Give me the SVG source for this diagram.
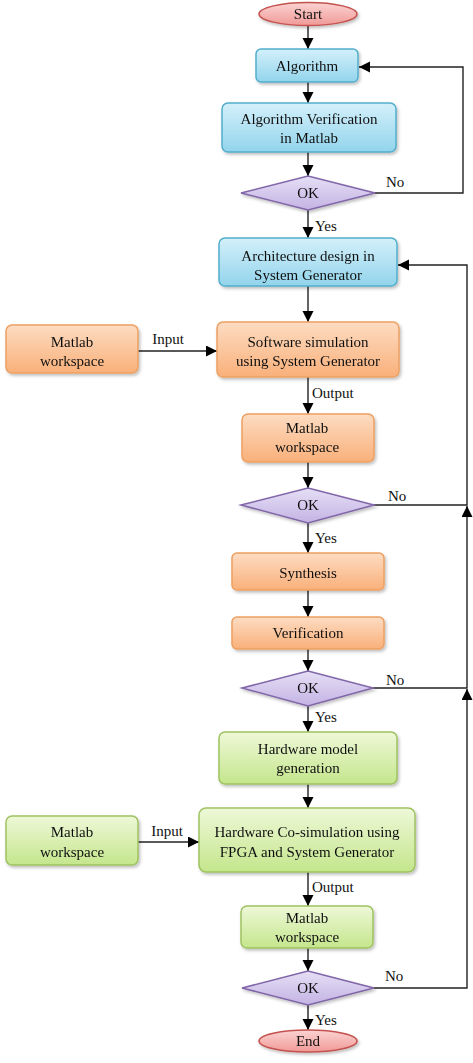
<svg xmlns="http://www.w3.org/2000/svg" width="473" height="1063" viewBox="0 0 473 1063">
<style>
text{font-family:"Liberation Serif","Times New Roman",serif;font-size:15px;fill:#111;text-anchor:middle}
.lbl{text-anchor:start}
.blue{fill:url(#gBlue);stroke:#52aecb;stroke-width:1.5}
.orange{fill:url(#gOrange);stroke:#eda062;stroke-width:1.5}
.green{fill:url(#gGreen);stroke:#9fc260;stroke-width:1.5}
.purple{fill:url(#gPurple);stroke:#8066a8;stroke-width:1.5}
.red{fill:url(#gRed);stroke:#c4534f;stroke-width:1.5}
.node{filter:url(#sh)}
.c{fill:none;stroke:#222;stroke-width:1.4}
.a{marker-end:url(#arr)}
</style>
<defs>
<linearGradient id="gBlue" x1="0" y1="0" x2="0" y2="1"><stop offset="0" stop-color="#d4f0fa"/><stop offset="1" stop-color="#92d4ec"/></linearGradient>
<linearGradient id="gOrange" x1="0" y1="0" x2="0" y2="1"><stop offset="0" stop-color="#fddcc2"/><stop offset="1" stop-color="#f9b07a"/></linearGradient>
<linearGradient id="gGreen" x1="0" y1="0" x2="0" y2="1"><stop offset="0" stop-color="#eef8d8"/><stop offset="1" stop-color="#c4e68c"/></linearGradient>
<linearGradient id="gPurple" x1="0" y1="0" x2="0" y2="1"><stop offset="0" stop-color="#e6dff6"/><stop offset="1" stop-color="#c3b3e3"/></linearGradient>
<linearGradient id="gRed" x1="0" y1="0" x2="0" y2="1"><stop offset="0" stop-color="#fbd3d2"/><stop offset="1" stop-color="#f09a97"/></linearGradient>
<filter id="sh" x="-10%" y="-20%" width="130%" height="150%"><feDropShadow dx="1.5" dy="2" stdDeviation="1.5" flood-color="#000" flood-opacity="0.25"/></filter>
<marker id="arr" markerWidth="12" markerHeight="12" refX="11" refY="5.5" orient="auto" markerUnits="userSpaceOnUse"><path d="M0,0 L11,5.5 L0,11 Z" fill="#000"/></marker>
</defs>

<g id="connectors">
<line class="c a" x1="308" y1="25" x2="308" y2="49"/>
<line class="c a" x1="308" y1="82" x2="308" y2="103"/>
<line class="c a" x1="308" y1="152" x2="308" y2="176"/>
<line class="c a" x1="308" y1="210" x2="308" y2="238"/>
<line class="c a" x1="308" y1="286" x2="308" y2="322"/>
<line class="c a" x1="308" y1="377" x2="308" y2="414"/>
<line class="c a" x1="308" y1="462" x2="308" y2="488"/>
<line class="c a" x1="308" y1="523" x2="308" y2="553"/>
<line class="c a" x1="308" y1="590" x2="308" y2="617"/>
<line class="c a" x1="308" y1="649" x2="308" y2="671"/>
<line class="c a" x1="308" y1="706" x2="308" y2="732"/>
<line class="c a" x1="308" y1="784" x2="308" y2="808"/>
<line class="c a" x1="308" y1="872" x2="308" y2="906"/>
<line class="c a" x1="308" y1="948" x2="308" y2="971"/>
<line class="c a" x1="308" y1="1005" x2="308" y2="1030"/>
<line class="c a" x1="138" y1="351" x2="217" y2="351"/>
<line class="c a" x1="138" y1="842" x2="199" y2="842"/>
<polyline class="c a" points="375,193 463,193 463,67 359,67"/>
<polyline class="c a" points="374,505 467,505 467,265 398,265"/>
<polyline class="c a" points="373,688 467,688 467,506"/>
<polyline class="c a" points="374,988 467,988 467,689"/>
<text class="lbl" x="386" y="187">No</text>
<text class="lbl" x="315" y="231">Yes</text>
<text x="168" y="344">Input</text>
<text class="lbl" x="312" y="398">Output</text>
<text class="lbl" x="388" y="501">No</text>
<text class="lbl" x="315" y="543">Yes</text>
<text class="lbl" x="386" y="685">No</text>
<text class="lbl" x="315" y="722">Yes</text>
<text x="167" y="836">Input</text>
<text class="lbl" x="312" y="892">Output</text>
<text class="lbl" x="385" y="981">No</text>
<text class="lbl" x="315" y="1025">Yes</text>
</g>

<g id="start" class="node"><ellipse class="red" cx="308" cy="14" rx="49" ry="11.5"/><text x="308" y="19">Start</text></g>
<g id="algorithm" class="node"><rect class="blue" x="256" y="49" width="102" height="33" rx="5"/><text x="307" y="71">Algorithm</text></g>
<g id="algver" class="node"><rect class="blue" x="222" y="103" width="174" height="49" rx="6"/><text x="309" y="124">Algorithm Verification</text><text x="309" y="143">in Matlab</text></g>
<g id="ok1" class="node"><polygon class="purple" points="241,193 308,176 375,193 308,210"/><text x="308" y="198">OK</text></g>
<g id="arch" class="node"><rect class="blue" x="219" y="238" width="178" height="48" rx="6"/><text x="308" y="261">Architecture design in</text><text x="308" y="280">System Generator</text></g>
<g id="mw1" class="node"><rect class="orange" x="6" y="325" width="132" height="48" rx="6"/><text x="72" y="347">Matlab</text><text x="72" y="366">workspace</text></g>
<g id="swsim" class="node"><rect class="orange" x="217" y="322" width="182" height="55" rx="6"/><text x="308" y="347">Software simulation</text><text x="308" y="366">using System Generator</text></g>
<g id="mw2" class="node"><rect class="orange" x="242" y="414" width="132" height="48" rx="6"/><text x="307" y="433">Matlab</text><text x="307" y="452">workspace</text></g>
<g id="ok2" class="node"><polygon class="purple" points="241,505 308,488 374,505 308,523"/><text x="308" y="510">OK</text></g>
<g id="synth" class="node"><rect class="orange" x="232" y="553" width="152" height="37" rx="5"/><text x="308" y="578">Synthesis</text></g>
<g id="verif" class="node"><rect class="orange" x="232" y="617" width="152" height="32" rx="5"/><text x="308" y="638">Verification</text></g>
<g id="ok3" class="node"><polygon class="purple" points="242,688 308,671 373,688 308,706"/><text x="308" y="693">OK</text></g>
<g id="hwmodel" class="node"><rect class="green" x="219" y="732" width="178" height="52" rx="6"/><text x="308" y="754">Hardware model</text><text x="308" y="773">generation</text></g>
<g id="mw3" class="node"><rect class="green" x="6" y="816" width="132" height="49" rx="6"/><text x="72" y="837">Matlab</text><text x="72" y="857">workspace</text></g>
<g id="cosim" class="node"><rect class="green" x="199" y="808" width="216" height="64" rx="7"/><text x="307" y="837">Hardware Co-simulation using</text><text x="307" y="857">FPGA and System Generator</text></g>
<g id="mw4" class="node"><rect class="green" x="241" y="906" width="132" height="42" rx="6"/><text x="307" y="923">Matlab</text><text x="307" y="942">workspace</text></g>
<g id="ok4" class="node"><polygon class="purple" points="242,988 308,971 374,988 308,1005"/><text x="308" y="993">OK</text></g>
<g id="end" class="node"><ellipse class="red" cx="308" cy="1041" rx="49" ry="11"/><text x="308" y="1046">End</text></g>
</svg>
